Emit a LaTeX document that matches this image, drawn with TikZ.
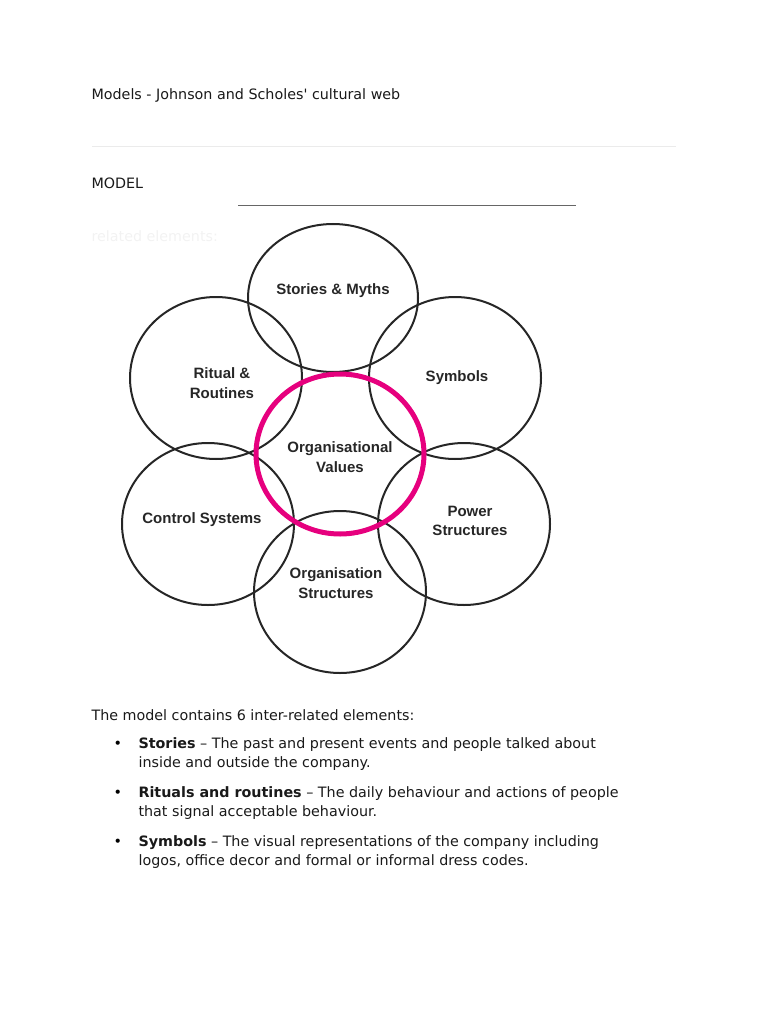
\documentclass[tikz,border=0pt]{standalone}
\usepackage{fontspec}
\setmainfont{DejaVu Sans}
\newfontfamily\labelfont{Liberation Sans}
\definecolor{webpink}{RGB}{230,0,126}
\begin{document}
\begin{tikzpicture}[
    x=1pt, y=-1pt,
    % circle of the web
    webring/.style = {draw=black!85, line width=2pt},
    weblabel/.style = {font=\labelfont\bfseries\fontsize{15}{19.5}\selectfont, align=center, text=black!85},
    pagetext/.style = {anchor=west, font=\fontsize{14.3}{19}\selectfont, text=black!90},
    item/.style = {anchor=north west, align=left, font=\fontsize{14.3}{19}\selectfont, text=black!90},
    dot/.style = {anchor=west, font=\fontsize{14.3}{19}\selectfont}
    ]
    \useasboundingbox (0,0) rectangle (768,1024);

    % page heading
    \node (title) [pagetext] at (88,96) {Models - Johnson and Scholes\textquotesingle\ cultural web};
    \draw [black!8] (92,146) -- (676,146);
    \node (model) [pagetext] at (88,183) {MODEL};
    \draw [black!60] (238,205) -- (576,205);
    \node (faint) [pagetext, text=black!5] at (88,236) {related elements:};

    % outer circles
    \draw [webring] (333,298) ellipse (85 and 74);
    \draw [webring] (216,378) ellipse (86 and 81);
    \draw [webring] (455,378) ellipse (86 and 81);
    \draw [webring] (208,524) ellipse (86 and 81);
    \draw [webring] (464,524) ellipse (86 and 81);
    \draw [webring] (340,592) ellipse (86 and 81);
    % centre
    \draw [webpink, line width=5pt] (340,454) ellipse (84 and 80);

    % labels
    \node (stories) [weblabel] at (333,291) {Stories \& Myths};
    \node (ritual)  [weblabel] at (222,383) {Ritual \&\\Routines};
    \node (symbols) [weblabel] at (457,378) {Symbols};
    \node (values)  [weblabel] at (340,457) {Organisational\\Values};
    \node (control) [weblabel] at (202,520) {Control Systems};
    \node (power)   [weblabel] at (470,521) {Power\\Structures};
    \node (orgstr)  [weblabel] at (336,583) {Organisation\\Structures};

    % text below
    \node (intro) [pagetext] at (88,715) {The model contains 6 inter-related elements:};
    \node (d1) [dot] at (110,745) {\textbullet};
    \node (d2) [dot] at (110,794) {\textbullet};
    \node (d3) [dot] at (110,843) {\textbullet};
    \node (b1) [item] at (135,734) {\textbf{Stories} -- The past and present events and people talked about\\inside and outside the company.};
    \node (b2) [item] at (135,783) {\textbf{Rituals and routines} -- The daily behaviour and actions of people\\that signal acceptable behaviour.};
    \node (b3) [item] at (135,832) {\textbf{Symbols} -- The visual representations of the company including\\logos, office decor and formal or informal dress codes.};
\end{tikzpicture}
\end{document}
